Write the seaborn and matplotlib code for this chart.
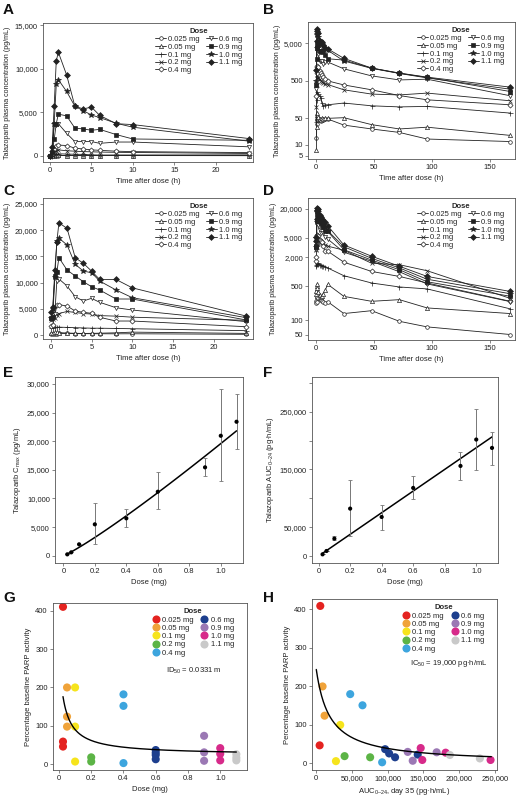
import numpy as np
import pandas as pd
import matplotlib
matplotlib.use("Agg")
import matplotlib.pyplot as plt
import seaborn as sns
from matplotlib.ticker import FuncFormatter, FixedLocator, NullLocator

# ---------------- data ----------------
doses = ["0.025 mg", "0.05 mg", "0.1 mg", "0.2 mg", "0.4 mg", "0.6 mg", "0.9 mg", "1.0 mg", "1.1 mg"]
dose_mg = [0.025, 0.05, 0.1, 0.2, 0.4, 0.6, 0.9, 1.0, 1.1]
times = [0, 0.25, 0.5, 0.75, 1, 2, 3, 4, 5, 6, 8, 10, 24, 48, 72, 96, 168]

# Day 1 concentrations (pg/mL) - panels A and B
d1_0025 = [0, 15, 35, 45, 48, 50, 45, 42, 48, 45, 47, 48, 33, 26, 21, 14, 12]
d1_005 = [0, 7, 30, 60, 70, 55, 48, 45, 50, 48, 50, 50, 52, 34, 26, 29, 17.5]
d1_01 = [0, 40, 150, 200, 250, 220, 200, 180, 130, 110, 115, 115, 128, 108, 101, 104, 69]
d1_02 = [0, 100, 400, 600, 700, 600, 550, 500, 480, 450, 420, 400, 289, 222, 211, 236, 147]
d1_04 = [0, 200, 800, 1200, 1250, 1200, 900, 800, 700, 650, 550, 500, 390, 289, 203, 156, 115]
d1_06 = [0, 300, 3700, 3600, 3700, 2600, 1650, 1650, 1650, 1450, 1600, 1600, 1050, 680, 530, 555, 200]
d1_09 = [0, 400, 1900, 3700, 4800, 4600, 3200, 3100, 2950, 3050, 2450, 1950, 1800, 1100, 800, 620, 260]
d1_10 = [0, 500, 3700, 8200, 8750, 7400, 5700, 5200, 4700, 4400, 3750, 3300, 1700, 1080, 790, 600, 300]
d1_11 = [0, 1000, 5700, 10900, 11900, 9300, 5700, 5400, 5600, 4650, 3700, 3600, 2000, 1100, 810, 630, 340]

# Day 35 concentrations (pg/mL) - panels C and D
d35_0025 = [250, 230, 240, 280, 300, 290, 270, 260, 250, 240, 230, 240, 136, 156, 94, 72, 50]
d35_005 = [350, 400, 500, 550, 450, 380, 330, 300, 320, 350, 420, 550, 309, 244, 264, 178, 136]
d35_01 = [1300, 1400, 1450, 1500, 1500, 1450, 1400, 1350, 1300, 1300, 1250, 1200, 828, 585, 484, 441, 170]
d35_02 = [2800, 3000, 3300, 3800, 4100, 4500, 4300, 4100, 4000, 3700, 3600, 3400, 2800, 1500, 1400, 1050, 280]
d35_04 = [1700, 2000, 3700, 5700, 5800, 5530, 4580, 4330, 4140, 3380, 2670, 2670, 1580, 1015, 800, 585, 244]
d35_06 = [3000, 3200, 4000, 10400, 10700, 9350, 7310, 6490, 7000, 6240, 5210, 4770, 2540, 1650, 1000, 560, 240]
d35_09 = [3200, 3500, 11200, 12000, 14750, 12400, 11260, 10170, 9220, 8590, 6870, 6870, 2860, 1750, 1100, 620, 310]
d35_10 = [3300, 5000, 11000, 17900, 18500, 17170, 13490, 12200, 11880, 10300, 8590, 7120, 3300, 1900, 1200, 700, 350]
d35_11 = [4300, 5300, 12400, 17800, 21400, 20350, 14750, 13680, 12200, 10600, 10600, 9000, 3600, 2100, 1300, 800, 390]

# Panel E: Cmax vs dose
cmax_mean = [240, 590, 1990, 5480, 6530, 11170, 15430, 20940, 23390]
cmax_lo = [240, 590, 1990, 1990, 5060, 8100, 13910, 13090, 18570]
cmax_hi = [240, 590, 1990, 9140, 8100, 14550, 17000, 29040, 28220]
cmax_fit_a = 19580.0   # power model a*dose^b
cmax_fit_b = 1.127

# Panel F: AUC0-24 vs dose
auc_mean = [2900, 8700, 30100, 82100, 67600, 117900, 156000, 201700, 187200]
auc_lo = [2900, 8700, 27200, 34100, 44500, 99500, 132400, 148500, 158400]
auc_hi = [2900, 8700, 34100, 132400, 89100, 138100, 180200, 255400, 214900]
auc_fit_slope = 187500.0

# Panel G: PARP activity vs dose
g_dose = ["0.025 mg"] * 3 + ["0.05 mg"] * 3 + ["0.1 mg"] * 3 + ["0.2 mg"] * 2 + ["0.4 mg"] * 3 \
         + ["0.6 mg"] * 4 + ["0.9 mg"] * 3 + ["1.0 mg"] * 3 + ["1.1 mg"] * 3
g_parp = [410, 59, 46, 200, 124, 98, 200, 98, 7, 18, 7, 182, 152, 3,
          37, 30, 24, 13, 74, 31, 9, 42, 27, 10, 26, 17, 10]
id50 = 0.0331
g_top, g_bottom = 291.0, 24.0

# Panel H: PARP activity vs AUC
h_dose = ["0.025 mg"] * 2 + ["0.05 mg"] * 2 + ["0.1 mg"] * 2 + ["0.2 mg"] * 2 + ["0.4 mg"] * 3 \
         + ["0.6 mg"] * 4 + ["0.9 mg"] * 3 + ["1.0 mg"] * 4 + ["1.1 mg"] * 2
h_auc = [5600, 4700, 8800, 11600, 33500, 27500, 39600, 75400, 47500, 64700, 92200,
         96400, 102000, 110300, 142000, 128000, 135000, 168500,
         146200, 148400, 181100, 244000, 187000, 229000]
h_parp = [409, 47, 200, 124, 100, 6, 19, 16, 180, 151, 3,
          37, 26, 16, 23, 30, 7, 29, 40, 9, 28, 9, 22, 13]
ic50 = 19000.0
h_top = 244.0

palette = {"0.025 mg": "#e42320", "0.05 mg": "#f0a33a", "0.1 mg": "#f6e41c",
           "0.2 mg": "#5cb446", "0.4 mg": "#3da5de", "0.6 mg": "#1d3f8e",
           "0.9 mg": "#9b78b4", "1.0 mg": "#d72a8a", "1.1 mg": "#c9c9c9"}

markers = {"0.025 mg": ("o", 2.6, "white"), "0.05 mg": ("^", 3.0, "white"),
           "0.1 mg": ("+", 3.6, "none"), "0.2 mg": ("x", 3.0, "none"),
           "0.4 mg": ("D", 2.6, "white"), "0.6 mg": ("v", 3.0, "white"),
           "0.9 mg": ("s", 2.6, "#222222"), "1.0 mg": ("*", 4.0, "#222222"),
           "1.1 mg": ("D", 3.0, "#222222")}

# ---------------- style ----------------
sns.set_theme(style="ticks")
plt.rcParams['font.family'] = ['Liberation Sans', 'DejaVu Sans']
plt.rcParams.update({
    'font.size': 5.5, 'axes.labelsize': 5.5, 'xtick.labelsize': 5.5, 'ytick.labelsize': 5.5,
    'axes.linewidth': 0.6, 'axes.edgecolor': '#555555',
    'xtick.major.size': 2.2, 'ytick.major.size': 2.2,
    'xtick.major.width': 0.5, 'ytick.major.width': 0.5,
    'xtick.major.pad': 1.5, 'ytick.major.pad': 1.5, 'axes.labelpad': 2.5,
    'xtick.color': '#555555', 'ytick.color': '#555555',
    'xtick.labelcolor': '#222222', 'ytick.labelcolor': '#222222',
    'axes.labelcolor': '#222222',
    'mathtext.fontset': 'custom', 'mathtext.rm': 'Liberation Sans',
    'mathtext.it': 'Liberation Sans:italic', 'mathtext.bf': 'Liberation Sans:bold',
    'mathtext.default': 'regular',
})

W, H = 520, 800
fig = plt.figure(figsize=(W / 100, H / 100), dpi=100)


def add_ax(l, t, r, b):
    return fig.add_axes([l / W, 1 - b / H, (r - l) / W, (b - t) / H])


comma = FuncFormatter(lambda v, p: f"{v:,.0f}")


def long_df(series):
    rows = []
    for d, vals in zip(doses, series):
        for t, c in zip(times, vals):
            rows.append((d, t, c))
    return pd.DataFrame(rows, columns=["dose", "time", "conc"])


day1 = long_df([d1_0025, d1_005, d1_01, d1_02, d1_04, d1_06, d1_09, d1_10, d1_11])
day35 = long_df([d35_0025, d35_005, d35_01, d35_02, d35_04, d35_06, d35_09, d35_10, d35_11])

PK_YLABEL = "Talazoparib plasma concentration (pg/mL)"


def pk_panel(ax, df, log=False, xmax=24):
    sub_all = df[df.time <= xmax]
    if log:
        sub_all = sub_all[sub_all.conc > 0]
    for d in doses:
        sub = sub_all[sub_all.dose == d]
        m, ms, fc = markers[d]
        sns.lineplot(data=sub, x="time", y="conc", ax=ax, color="#222222", lw=0.6,
                     marker=m, markersize=ms, markerfacecolor=fc,
                     markeredgecolor="#222222", markeredgewidth=0.5, label=d)
    handles, labels = ax.get_legend_handles_labels()
    leg = ax.legend(handles, labels, title="Dose", ncol=2, loc="upper right",
                    bbox_to_anchor=(0.975, 1.0), frameon=False, fontsize=5.5,
                    title_fontsize=5.5, labelspacing=0.05, handlelength=1.4,
                    handletextpad=0.3, columnspacing=0.8, borderpad=0.2)
    leg.get_title().set_fontweight("bold")
    ax.set_xlabel("Time after dose (h)")
    ax.set_ylabel(PK_YLABEL, fontsize=5.1)


# Panel A
axA = add_ax(43, 23, 253, 162)
pk_panel(axA, day1)
axA.set_xlim(-0.85, 24.5)
axA.set_ylim(-690, 15250)
axA.set_xticks([0, 5, 10, 15, 20])
axA.set_yticks([0, 5000, 10000, 15000])
axA.yaxis.set_major_formatter(comma)

# Panel B
axB = add_ax(308, 22, 515, 159)
pk_panel(axB, day1, log=True, xmax=200)
axB.set_yscale("log")
axB.set_xlim(-7, 172)
axB.set_ylim(4.1, 18700)
axB.set_xticks([0, 50, 100, 150])
axB.yaxis.set_major_locator(FixedLocator([5, 10, 50, 500, 5000]))
axB.yaxis.set_minor_locator(NullLocator())
axB.yaxis.set_major_formatter(comma)

# Panel C
axC = add_ax(43, 198, 253, 339)
pk_panel(axC, day35)
axC.set_xlim(-0.95, 24.8)
axC.set_ylim(-760, 26140)
axC.set_xticks([0, 5, 10, 15, 20])
axC.set_yticks([0, 5000, 10000, 15000, 20000, 25000])
axC.yaxis.set_major_formatter(comma)

# Panel D
axD = add_ax(308, 198, 515, 340)
pk_panel(axD, day35, log=True, xmax=200)
axD.set_yscale("log")
axD.set_xlim(-7, 172)
axD.set_ylim(38.5, 33800)
axD.set_xticks([0, 50, 100, 150])
axD.yaxis.set_major_locator(FixedLocator([50, 100, 500, 2000, 5000, 20000]))
axD.yaxis.set_minor_locator(NullLocator())
axD.yaxis.set_major_formatter(comma)

dose_ticks = [0, 0.2, 0.4, 0.6, 0.8, 1.0]
dose_ticklabels = ["0", "0.2", "0.4", "0.6", "0.8", "1.0"]


def dose_panel(ax, mean, lo, hi, xfit, yfit):
    m = np.array(mean); l = np.array(lo); h = np.array(hi)
    sns.lineplot(x=xfit, y=yfit, ax=ax, color="black", lw=1.1)
    ax.errorbar(dose_mg, m, yerr=[m - l, h - m], fmt="none", ecolor="#777777",
                elinewidth=0.7, capsize=1.6, capthick=0.6, zorder=2)
    sns.scatterplot(x=dose_mg, y=mean, ax=ax, color="black", s=9, edgecolor="none", zorder=3)
    ax.set_xticks(dose_ticks)
    ax.set_xticklabels(dose_ticklabels)
    ax.set_xlabel("Dose (mg)")


# Panel E
axE = add_ax(55, 377, 243, 563)
xfitE = np.linspace(0.025, 1.1, 100)
dose_panel(axE, cmax_mean, cmax_lo, cmax_hi, xfitE, cmax_fit_a * xfitE ** cmax_fit_b)
axE.set_xlim(-0.053, 1.141)
axE.set_ylim(-1270, 31200)
axE.set_yticks([0, 5000, 10000, 15000, 20000, 25000, 30000])
axE.yaxis.set_major_formatter(comma)
axE.set_ylabel("Talazoparib C$_{max}$ (pg/mL)")

# Panel F
axF = add_ax(312, 377, 498, 563)
xfitF = np.linspace(0.025, 1.1, 50)
dose_panel(axF, auc_mean, auc_lo, auc_hi, xfitF, auc_fit_slope * xfitF)
axF.set_xlim(-0.042, 1.138)
axF.set_ylim(-12100, 310000)
yF = [0, 50000, 100000, 150000, 200000, 250000, 300000]
axF.set_yticks(yF)
axF.set_yticklabels(["0", "50,000", "", "150,000", "", "250,000", ""])
axF.set_ylabel("Talazoparib AUC$_{0\u201324}$ (pg\u00b7h/mL)")


def parp_legend(ax):
    handles, labels = ax.get_legend_handles_labels()
    leg = ax.legend(handles, labels, title="Dose", ncol=2, loc="upper right",
                    bbox_to_anchor=(0.96, 1.0), frameon=False, fontsize=5.5,
                    title_fontsize=5.5, labelspacing=0.12, handlelength=1.0,
                    handletextpad=0.3, columnspacing=0.9, borderpad=0.2,
                    markerscale=1.0)
    leg.get_title().set_fontweight("bold")


# Panel G
axG = add_ax(53, 603, 247, 770)
dfG = pd.DataFrame({"dose": g_dose, "mg": [dose_mg[doses.index(d)] for d in g_dose], "parp": g_parp})
sns.scatterplot(data=dfG, x="mg", y="parp", hue="dose", hue_order=doses, palette=palette,
                s=34, edgecolor="none", ax=axG, zorder=2)
xg = np.linspace(0.025, 1.1, 200)
sns.lineplot(x=xg, y=g_bottom + (g_top - g_bottom) * id50 / (id50 + xg), ax=axG,
             color="black", lw=1.0, zorder=3)
parp_legend(axG)
axG.set_xlim(-0.037, 1.166)
axG.set_ylim(-15, 420)
axG.set_xticks(dose_ticks)
axG.set_xticklabels(dose_ticklabels)
axG.set_yticks([0, 100, 200, 300, 400])
axG.set_xlabel("Dose (mg)")
axG.set_ylabel("Percentage baseline PARP activity")
axG.text(0.664, 243, "ID$_{50}$ = 0.0331 m", fontsize=5.5, color="#222222", va="center")

# Panel H
axH = add_ax(312, 599, 497, 770)
dfH = pd.DataFrame({"dose": h_dose, "auc": h_auc, "parp": h_parp})
sns.scatterplot(data=dfH, x="auc", y="parp", hue="dose", hue_order=doses, palette=palette,
                s=34, edgecolor="none", ax=axH, zorder=2)
xh = np.linspace(0, 245000, 300)
sns.lineplot(x=xh, y=h_top * ic50 / (ic50 + xh), ax=axH, color="black", lw=1.0, zorder=3)
parp_legend(axH)
axH.set_xlim(-6000, 253000)
axH.set_ylim(-17, 427)
axH.set_xticks([0, 50000, 100000, 150000, 200000, 250000])
axH.xaxis.set_major_formatter(comma)
axH.set_yticks([0, 100, 200, 300, 400])
axH.set_xlabel("AUC$_{0\u201324}$, day 35 (pg\u00b7h/mL)")
axH.set_ylabel("Percentage baseline PARP activity")
axH.text(131300, 260, "IC$_{50}$ = 19,000 pg\u00b7h/mL", fontsize=5.5, color="#222222", va="center")

# Panel letters
for letter, x, y in [("A", 3, 3), ("B", 263, 3), ("C", 3, 184), ("D", 263, 184),
                     ("E", 3, 366), ("F", 263, 366), ("G", 3, 591), ("H", 263, 591)]:
    fig.text(x / W, 1 - y / H, letter, fontsize=11, fontweight="bold", va="top", ha="left",
             color="#111111")

fig.savefig("out.png", dpi=100)
